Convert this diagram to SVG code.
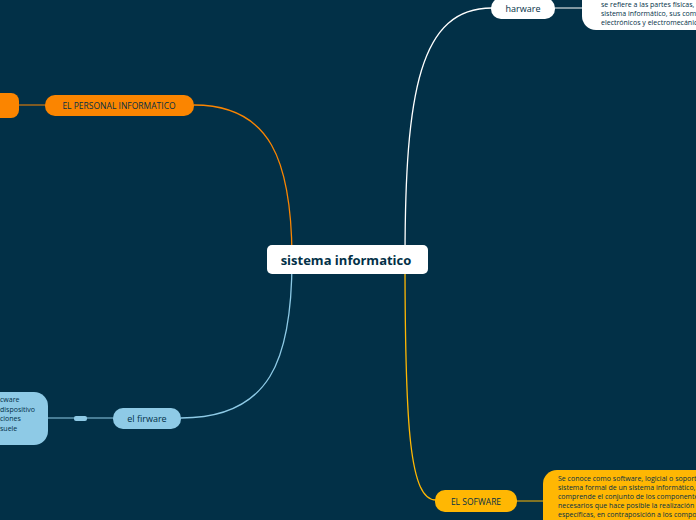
<svg xmlns="http://www.w3.org/2000/svg" width="696" height="520" viewBox="0 0 696 520">
<style>
text{font-family:"Open Sans","Noto Sans",sans-serif}
.s{font-size:7px}
.m{font-size:9px}
.l{font-size:8.5px}
</style>
<rect width="696" height="520" fill="#023047"/>
<g id="connectors" fill="none" stroke-width="1.3">
<path d="M405 260 C405 90 420 8 492 8" stroke="#ffffff"/>
<path d="M555 8 H582" stroke="#ffffff" stroke-width="1"/>
<path d="M292 260 C292 160 270 105 194 105" stroke="#fb8500"/>
<path d="M45 105 H19" stroke="#fb8500" stroke-width="1"/>
<path d="M292 260 C292 360 270 418 181 418" stroke="#8ecae6"/>
<path d="M113 418 H48" stroke="#8ecae6" stroke-width="1"/>
<path d="M405 260 C405 430 410 500 436 500" stroke="#ffb703"/>
<path d="M516 501 H543" stroke="#ffb703" stroke-width="1"/>
</g>
<g id="root"><rect x="267" y="245" width="161" height="29" rx="5" fill="#fff"/><text x="346" y="265" text-anchor="middle" font-size="13" font-weight="bold" fill="#023047">sistema informatico</text></g>
<g id="harware"><rect x="491" y="-2" width="64" height="21" rx="10" fill="#fff"/><text x="523" y="12" text-anchor="middle" class="m" fill="#023047">harware</text></g>
<g id="harware-note"><rect x="582" y="-20" width="140" height="50" rx="14" fill="#fff"/>
<text class="s" fill="#023047"><tspan x="601" y="7">se refiere a las partes físicas, tangibles</tspan><tspan x="601" y="16">sistema informático, sus componentes</tspan><tspan x="601" y="25">electrónicos y electromecánicos</tspan></text></g>
<g id="personal"><rect x="45" y="95" width="149" height="21" rx="10" fill="#fb8500"/><text x="119" y="108.5" text-anchor="middle" class="l" fill="#023047">EL PERSONAL INFORMATICO</text></g>
<g id="personal-note"><rect x="-20" y="93" width="39" height="25" rx="8" fill="#fb8500"/></g>
<g id="firware"><rect x="113" y="408" width="68" height="21" rx="10" fill="#8ecae6"/><text x="147" y="422" text-anchor="middle" class="m" fill="#023047">el firware</text></g>
<rect x="74" y="416" width="13" height="5" rx="2" fill="#8ecae6"/>
<g id="firware-note"><rect x="-80" y="392" width="128" height="53" rx="14" fill="#8ecae6"/>
<text class="s" fill="#023047"><tspan x="0" y="402">cware</tspan><tspan x="0" y="412">dispositivo</tspan><tspan x="0" y="421">ciones</tspan><tspan x="0" y="431">suele</tspan></text></g>
<g id="sofware"><rect x="435" y="490" width="82" height="22" rx="10" fill="#ffb703"/><text x="476" y="504.5" text-anchor="middle" class="l" fill="#023047">EL SOFWARE</text></g>
<g id="sofware-note"><rect x="543" y="470" width="180" height="70" rx="14" fill="#ffb703"/>
<text class="s" fill="#023047"><tspan x="558" y="481">Se conoce como software,  logicial o soporte lógico al</tspan><tspan x="558" y="490">sistema formal de un sistema informático, que</tspan><tspan x="558" y="499">comprende el conjunto de los componentes lógicos</tspan><tspan x="558" y="508">necesarios que hace posible la realización de tareas</tspan><tspan x="558" y="517">específicas, en contraposición a los componentes</tspan></text></g>
</svg>
